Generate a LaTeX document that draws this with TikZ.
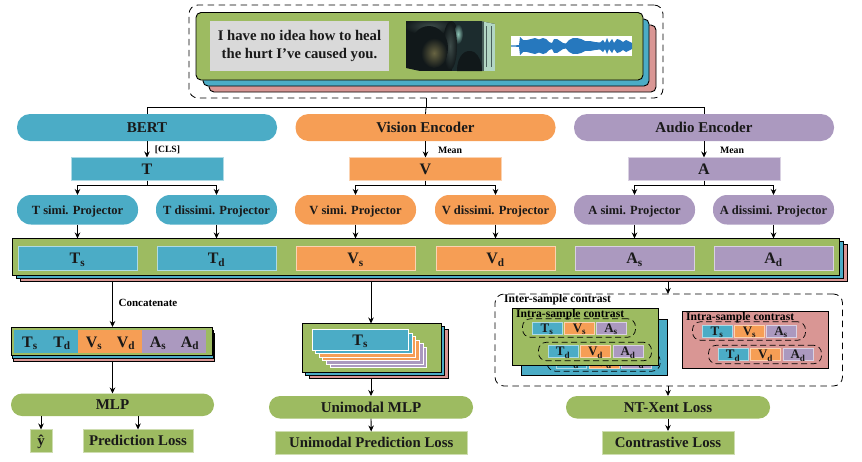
\documentclass[tikz,border=0pt]{standalone}
\usepackage{fontspec}
\setmainfont{Liberation Serif}
\usetikzlibrary{positioning,arrows.meta,calc}
\definecolor{cmgreen}{RGB}{157,187,97}
\definecolor{cmblue}{RGB}{75,172,198}
\definecolor{cmorange}{RGB}{246,158,85}
\definecolor{cmpurple}{RGB}{171,153,191}
\definecolor{cmred}{RGB}{217,150,148}
\definecolor{cmgray}{RGB}{217,217,217}
\definecolor{cmwave}{RGB}{38,120,190}
\definecolor{cmframe}{RGB}{17,24,26}
\definecolor{cmroom}{RGB}{28,44,46}
\definecolor{cmhood}{RGB}{62,76,74}
\definecolor{cmskin}{RGB}{104,100,66}
\definecolor{cmwindow}{RGB}{178,214,196}
\newcommand{\fsz}[1]{\fontsize{#1pt}{#1pt}\selectfont\bfseries}
\tikzset{
    size/.style 2 args={minimum width=#1pt,minimum height=#2pt},
    base box/.style={rectangle,inner sep=0pt,outer sep=0pt,align=center,text=black!90},
    pill/.style={base box,rounded corners=#1,font=\fsz{15}},
    encoder/.style={pill=13pt,size={260}{27}},
    projector/.style={pill=14pt,size={121}{29.5},font=\fsz{12.5},text height=11pt,text depth=2.5pt},
    mlp box/.style={pill=11pt,fill=cmgreen,size={204}{22.5}},
    token/.style={base box,font=\fsz{16},text height=11pt,text depth=0pt,draw=#1!45!white,fill=#1,line width=0.8pt},
    loss box/.style={base box,font=\fsz{14.8},text height=13pt,text depth=3pt,draw=cmgreen!50!white,fill=cmgreen,line width=0.8pt},
    card/.style={base box,draw=black,fill=#1,line width=0.9pt},
    tiny token/.style={token=#1,font=\fsz{13},text height=8.8pt,size={30}{12.5}},
    ring/.style={base box,dashed,draw=black,line width=0.7pt,rounded corners=8pt,dash pattern=on 6pt off 3.5pt,size={113}{18.5}},
    small label/.style={font=\fsz{#1},inner sep=0pt},
    conn/.style={draw=black,line width=0.8pt},
    arrow/.style={conn,-{Stealth[length=6pt,width=5.5pt]}},
}
% lower row of a contrast card, placed by a shift
\newcommand{\contrastrow}[3]{
\begin{scope}[shift={(#2,#3)}]
\node[tiny token=cmblue] (#1-td) at (733,354.5) {T\textsubscript{d}};
\node[tiny token=cmorange] (#1-vd) at (765.5,354.5) {V\textsubscript{d}};
\node[tiny token=cmpurple] (#1-ad) at (798,354.5) {A\textsubscript{d}};
\node[ring] (#1-ring2) at (765,354.5) {};
\end{scope}
}
% one contrast card with its two rows
\newcommand{\contrastcard}[4]{
\begin{scope}[shift={(#2,#3)}]
\node[card=#4,size={146}{56.6}] (#1-card) at (755.3,340) {};
\node[small label=11.6,anchor=west] (#1-title) at (686,317.5) {Intra-sample contrast};
\node[tiny token=cmblue] (#1-ts) at (717,331.5) {T\textsubscript{s}};
\node[tiny token=cmorange] (#1-vs) at (749.5,331.5) {V\textsubscript{s}};
\node[tiny token=cmpurple] (#1-as) at (781,331.5) {A\textsubscript{s}};
\node[ring] (#1-ring1) at (749,331) {};
\end{scope}
\contrastrow{#1}{#2}{#3}
}
\begin{document}
\begin{tikzpicture}[x=1pt,y=-1pt]
\useasboundingbox (0,0) rectangle (862,461);

%Input sample: three stacked cards in a dashed frame
\node[base box,draw=black,dashed,dash pattern=on 6.5pt off 4.5pt,line width=0.8pt,rounded corners=9pt,size={474}{93}] (input) at (426,51.5) {};
\node[card=cmred,rounded corners=5pt,size={447}{67}] (input-red) at (432.5,58.5) {};
\node[card=cmblue,rounded corners=5pt,size={446}{67}] (input-blue) at (426,52.5) {};
\node[card=cmgreen,rounded corners=5pt,size={447}{67.5}] (input-green) at (419.5,46.25) {};
\node[base box,fill=cmgray,size={179}{50},font=\fontsize{14.7pt}{18pt}\selectfont\bfseries] (sentence) at (299.5,46) {I have no idea how to heal\\the hurt I’ve caused you.};

%Video frame
\begin{scope}
\clip (406,21) -- (480,21) -- (495,24) -- (495,71) -- (420,71) -- (406,68) -- cycle;
\fill[cmframe] (406,21) rectangle (495,71);
\fill[cmroom] (452,21) rectangle (482,71);
\shade[inner color=cmwindow!80!teal,outer color=cmroom] (458,34) ellipse (5pt and 10pt);
\fill[cmframe] (457,71) .. controls (457,55) and (466,48) .. (474,52) .. controls (480,56) and (482,64) .. (482,71) -- cycle;
\shade[inner color=cmhood,outer color=cmframe] (430,26) ellipse (26pt and 9pt);
\shade[inner color=cmhood,outer color=cmframe] (450,46) ellipse (7pt and 24pt);
\fill[cmframe] (429,48) ellipse (19pt and 22pt);
\shade[inner color=cmskin,outer color=cmframe] (434,53) ellipse (13pt and 15pt);
\fill[cmwindow] (482,21) rectangle (495,71);
\foreach \xw in {485.5,490.5}
    \fill[cmroom!70!cmwindow] (\xw,26) rectangle ++(1.5,41);
\fill[cmroom!70!cmwindow] (482,21) rectangle ++(1.5,50);
\end{scope}

%Audio waveform
\node[base box,fill=white,size={121}{20}] (wave) at (571.5,46) {};
\foreach \x/\h [remember=\x as \xp (initially 511),remember=\h as \hp (initially 0.6)] in {516/0.7,519/1,520/9,523/6,527/6,531/7,535/8,539/6.5,543/8,546/7,549/4,552/3,554/7,557/7,560/5,563/3,566/2.5,569/6,573/8,577/8,581/7,585/5,590/5,595/4,600/3.5,603/6,605/3,607/8,609/3,612/7,614/3,617/7,620/6,623/4,626/6,630/4,632/3}
    \fill[cmwave] (\xp,46-\hp) -- (\x,46-\h) -- (\x,46+\h) -- (\xp,46+\hp) -- cycle;

%Encoders
\node[encoder,fill=cmblue] (bert) at (147,127.5) {BERT};
\node[encoder,fill=cmorange] (vision) at (425.5,127.5) {Vision Encoder};
\node[encoder,fill=cmpurple] (audio) at (704,127.5) {Audio Encoder};

\node[token=cmblue,size={152}{23}] (t) at (147,169) {T};
\node[token=cmorange,size={152}{23}] (v) at (425.5,169) {V};
\node[token=cmpurple,size={152}{23}] (a) at (704,169) {A};

\node[small label=9.6] (cls) at (167.5,150) {[CLS]};
\node[small label=9.8] (mean-v) at (450,150.5) {Mean};
\node[small label=9.8] (mean-a) at (732,150.5) {Mean};

%Projectors
\node[projector,fill=cmblue] (t-simi) at (77.5,209.75) {T simi. Projector};
\node[projector,fill=cmblue] (t-dissimi) at (216.5,209.75) {T dissimi. Projector};
\node[projector,fill=cmorange] (v-simi) at (355.5,209.75) {V simi. Projector};
\node[projector,fill=cmorange] (v-dissimi) at (495.5,209.75) {V dissimi. Projector};
\node[projector,fill=cmpurple] (a-simi) at (634.5,209.75) {A simi. Projector};
\node[projector,fill=cmpurple] (a-dissimi) at (773.5,209.75) {A dissimi. Projector};

%Stack of modality features
\node[card=cmred,size={827}{36.5}] (layer-red) at (433.5,263) {};
\node[card=cmblue,size={827}{36.5}] (layer-blue) at (429.5,260) {};
\node[card=cmgreen,size={827}{36.5}] (layer-green) at (425.5,256.75) {};
\node[token=cmblue,size={119}{23.5}] (ts) at (77.5,258.25) {T\textsubscript{s}};
\node[token=cmblue,size={119}{23.5}] (td) at (216.5,258.25) {T\textsubscript{d}};
\node[token=cmorange,size={119}{23.5}] (vs) at (355.5,258.25) {V\textsubscript{s}};
\node[token=cmorange,size={119}{23.5}] (vd) at (495.5,258.25) {V\textsubscript{d}};
\node[token=cmpurple,size={119}{23.5}] (as) at (634.5,258.25) {A\textsubscript{s}};
\node[token=cmpurple,size={119}{23.5}] (ad) at (773.5,258.25) {A\textsubscript{d}};

%Concatenate branch
\node[small label=11] (concat-label) at (148,303) {Concatenate};
\node[card=cmred,size={201}{28}] (concat-red) at (114,347.5) {};
\node[card=cmblue,size={201}{28}] (concat-blue) at (112.8,344.5) {};
\node[card=cmgreen,size={201}{28}] (concat-green) at (111.5,341) {};
\foreach \name/\txt/\sub/\col/\x in {c-ts/T/s/cmblue/30,c-td/T/d/cmblue/62,c-vs/V/s/cmorange/94,c-vd/V/d/cmorange/126,c-as/A/s/cmpurple/158,c-ad/A/d/cmpurple/190}
    \node[base box,fill=\col,size={32.2}{23},font=\fsz{16},text height=11pt,text depth=0pt] (\name) at (\x,341.5) {\txt\textsubscript{\sub}};
\node[mlp box,size={203}{22.5}] (mlp) at (112.5,404.75) {MLP};
\node[loss box,size={22}{22.5}] (y-hat) at (41,440.75) {ŷ};
\node[loss box,size={110}{22.5}] (pred-loss) at (138,440.75) {Prediction Loss};

%Unimodal branch
\node[card=cmred,size={139}{49}] (uni-red) at (378.5,353.5) {};
\node[card=cmblue,size={139}{49}] (uni-blue) at (375,351) {};
\node[card=cmgreen,size={139}{49}] (uni-green) at (371.5,348) {};
\foreach \i/\col in {5/cmpurple,4/cmpurple,3/cmorange,2/cmorange,1/cmblue}
    \node[base box,draw=white,fill=\col,line width=0.8pt,size={96.5}{20.5}] (uni-\i) at ({360.25+3.6*\i},{339.75+3.5*\i}) {};
\node[token=cmblue,draw=white,size={96.5}{20.5}] (uni-0) at (360.25,339.75) {T\textsubscript{s}};
\node[mlp box] (uni-mlp) at (371,407.25) {Unimodal MLP};
\node[loss box,size={191.5}{22.5}] (uni-loss) at (371.25,442.75) {Unimodal Prediction Loss};

%Contrastive branch
\node[base box,draw=black,dashed,dash pattern=on 6.5pt off 4.5pt,line width=0.8pt,rounded corners=9pt,size={347.5}{92}] (contrast) at (668.75,340) {};
\node[small label=11.6,anchor=west] (inter-title) at (504,300) {Inter-sample contrast};
\node[card=cmblue,size={146}{56.6}] (back-card) at (594,347.4) {};
\contrastrow{back}{-161.3}{7.4}
\contrastcard{front}{-170}{-3}{cmgreen}
\contrastcard{other}{0}{0}{cmred}
\node[mlp box] (ntxent) at (668,407.25) {NT-Xent Loss};
\node[loss box,size={132}{23}] (con-loss) at (668,442.5) {Contrastive Loss};

%Connectors
\draw[conn] (input.south) -- ++(0,9.5) coordinate (bus);
\draw[conn] (bert.north) |- (bus) -| (audio.north);
\draw[conn] (bus) -- (vision.north);

\draw[arrow] (bert) -- (t);
\draw[arrow] (vision) -- (v);
\draw[arrow] (audio) -- (a);

\draw[arrow] (t.south) -- ++(0,4.5) -| (t-simi.north);
\draw[arrow] (t.south) -- ++(0,4.5) -| (t-dissimi.north);
\draw[arrow] (v.south) -- ++(0,4.5) -| (v-simi.north);
\draw[arrow] (v.south) -- ++(0,4.5) -| (v-dissimi.north);
\draw[arrow] (a.south) -- ++(0,4.5) -| (a-simi.north);
\draw[arrow] (a.south) -- ++(0,4.5) -| (a-dissimi.north);

\draw[arrow] (t-simi) -- (t-simi |- layer-green.north);
\draw[arrow] (t-dissimi) -- (t-dissimi |- layer-green.north);
\draw[arrow] (v-simi) -- (v-simi |- layer-green.north);
\draw[arrow] (v-dissimi) -- (v-dissimi |- layer-green.north);
\draw[arrow] (a-simi) -- (a-simi |- layer-green.north);
\draw[arrow] (a-dissimi) -- (a-dissimi |- layer-green.north);

\draw[arrow] (layer-red.south -| mlp.north) -- (concat-green.north -| mlp.north);
\draw[arrow] (concat-red.south -| mlp.north) -- (mlp.north);
\draw[arrow] (mlp.south -| y-hat.north) -- (y-hat.north);
\draw[arrow] (mlp.south -| pred-loss.north) -- (pred-loss.north);

\draw[arrow] (layer-red.south -| uni-mlp.north) -- (uni-green.north -| uni-mlp.north);
\draw[arrow] (uni-red.south -| uni-mlp.north) -- (uni-mlp.north);
\draw[arrow] (uni-mlp) -- (uni-loss);

\draw[arrow] (layer-red.south -| ntxent.north) -- (contrast.north -| ntxent.north);
\draw[arrow] (contrast.south -| ntxent.north) -- (ntxent.north);
\draw[arrow] (ntxent) -- (con-loss);

\end{tikzpicture}
\end{document}
